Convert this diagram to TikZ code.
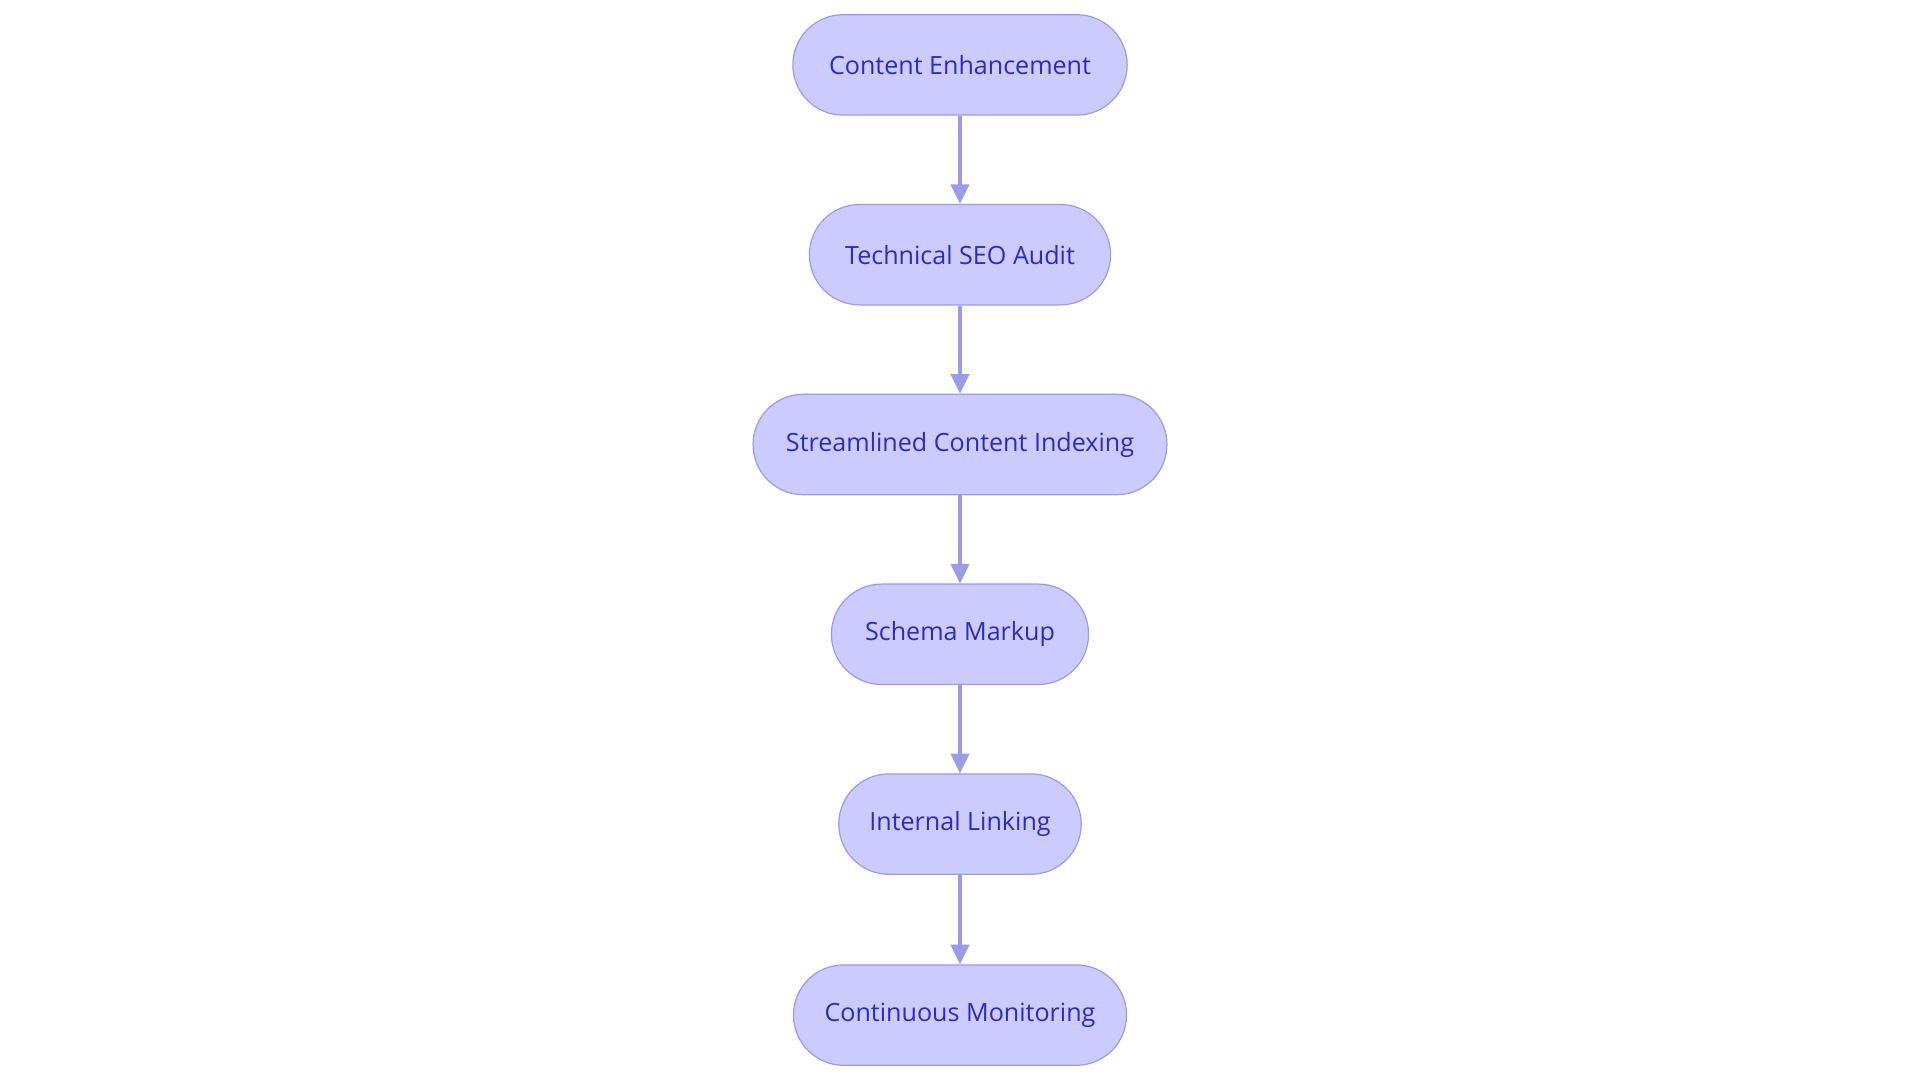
\documentclass[tikz,border=0pt]{standalone}
\usepackage{fontspec}
\setmainfont{Open Sans}
\usetikzlibrary{arrows.meta}
\definecolor{nfill}{HTML}{CBCBFD}
\definecolor{ndraw}{HTML}{9A9BEE}
\definecolor{ntext}{HTML}{2B2BC4}
\definecolor{arr}{HTML}{9A9CE8}
\begin{document}
\begin{tikzpicture}[x=1pt,y=-1pt,
  box/.style={draw=ndraw,fill=nfill,line width=1pt,rounded corners=41pt,minimum height=82pt,inner sep=0pt,text=ntext,font=\fontsize{20.5}{24}\selectfont},
  ar/.style={draw=arr,line width=2.6pt,-{Triangle[length=16pt,width=15pt]}}]
\useasboundingbox (0,0) rectangle (1568,884);
\node[box,minimum width=273pt] (a) at (784,53) {Content Enhancement};
\node[box,minimum width=246pt] (b) at (784,208) {Technical SEO Audit};
\node[box,minimum width=338pt] (c) at (784,363) {Streamlined Content Indexing};
\node[box,minimum width=210pt] (d) at (784,518) {Schema Markup};
\node[box,minimum width=198pt] (e) at (784,673) {Internal Linking};
\node[box,minimum width=272pt] (f) at (784,829) {Continuous Monitoring};
\draw[ar] (a) -- (b);
\draw[ar] (b) -- (c);
\draw[ar] (c) -- (d);
\draw[ar] (d) -- (e);
\draw[ar] (e) -- (f);
\end{tikzpicture}
\end{document}
